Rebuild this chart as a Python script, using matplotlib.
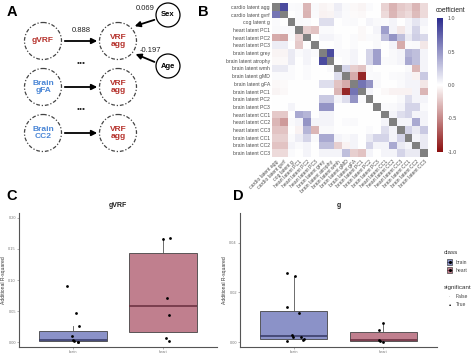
import numpy as np
import matplotlib
matplotlib.use('Agg')
import matplotlib.pyplot as plt
from matplotlib.patches import Circle
from matplotlib.colors import LinearSegmentedColormap

plt.rcParams['font.family'] = ['Liberation Sans', 'DejaVu Sans']

# ---------- data ----------
# panel A: path model
coef_vrf = 0.888
coef_sex = 0.069
coef_age = -0.197

# panel B: coefficient matrix (diagonal = nan)
latent_labels = ['cardio latent agg', 'cardio latent gvrf', 'cog latent g',
                 'heart latent PC1', 'heart latent PC2', 'heart latent PC3',
                 'brain latent grey', 'brain latent atrophy', 'brain latent wmh',
                 'brain latent gMD', 'brain latent gFA', 'brain latent PC1',
                 'brain latent PC2', 'brain latent PC3', 'heart latent CC1',
                 'heart latent CC2', 'heart latent CC3', 'brain latent CC1',
                 'brain latent CC2', 'brain latent CC3']
nan = np.nan
coef = [
    [nan, .85, .02, .03, -.30, .03, -.04, -.03, .08, .03, -.03, -.04, .02, .00, -.18, -.32, -.22, -.18, -.30, -.15],
    [.65, nan, .00, .02, -.32, .02, -.05, -.04, .06, .02, -.02, -.03, .00, .00, -.15, -.30, -.20, -.15, -.28, -.15],
    [.02, .00, nan, .03, .02, .00, .15, .15, .00, .02, .03, .00, .05, .03, .02, .05, .00, .05, .12, .05],
    [.03, .02, .03, nan, -.20, -.25, .02, .02, .00, .00, .00, -.03, .00, .05, .45, .05, -.10, .05, .20, .02],
    [-.35, -.38, .02, -.18, nan, .00, .05, .05, .02, .00, .02, -.03, .02, .03, .30, .50, .30, .10, .22, .18],
    [.08, .08, .00, -.22, .00, nan, .00, .00, .02, .00, .02, .00, .00, .03, .00, .05, -.35, .02, .03, -.10],
    [-.04, -.04, .10, .02, .05, .02, nan, .85, .02, .02, .05, .00, .20, .45, .00, .03, .05, .35, .30, .05],
    [-.03, -.03, .10, .00, .05, .00, .85, nan, .00, .02, .05, .00, .20, .45, .02, .03, .05, .40, .30, .05],
    [.10, .10, .02, .00, .02, .00, .00, .03, nan, .20, -.20, -.25, .03, .00, .00, .00, .00, .03, -.30, .05],
    [.02, .02, .02, .00, .02, .00, .00, .00, .15, nan, -.35, -.90, .02, .03, .00, .02, .03, .05, -.05, .25],
    [-.03, -.02, .00, .00, .00, .00, .15, .15, -.25, -.35, nan, .65, .50, .03, .00, .00, .02, .05, .05, -.10],
    [-.04, -.03, .00, .00, .00, .00, .00, .00, -.30, -.90, .65, nan, .05, .00, -.03, -.05, -.05, -.05, .05, -.30],
    [.00, .00, .00, .00, .00, .00, .25, .25, .05, .15, .50, .02, nan, .00, .00, .00, .03, .15, .05, .05],
    [.00, .00, .05, .00, .00, .00, .50, .50, .00, .00, .00, .00, .00, nan, .02, .03, .05, .20, .20, .02],
    [-.22, -.22, .00, .40, .35, .00, .05, .05, .00, .00, .00, .00, .00, .00, nan, .05, .15, .20, .05, .05],
    [-.30, -.42, .02, .05, .50, .05, .05, .05, .00, .02, .03, .00, .00, .00, .05, nan, .05, .05, .40, .05],
    [-.25, -.25, .00, -.05, .35, -.30, .03, .03, .00, .00, .00, .00, .02, .00, .15, .05, nan, .20, .10, .25],
    [-.20, -.20, .02, .08, .20, .03, .40, .40, .05, .03, .05, .00, .10, .20, .20, .05, .20, nan, .05, .10],
    [-.25, -.25, .05, .02, .05, .00, .30, .30, -.20, -.05, .05, .00, .20, .05, .05, .40, .10, .05, nan, .10],
    [-.15, -.15, .02, .00, .05, .00, .05, .05, .05, .30, -.20, -.25, .05, .00, .05, .05, .20, .10, .10, nan],
]

# panels C, D: additional R-squared
classes = ['brain', 'heart']
# box stats: q1, median, q3, upper whisker
c_q1 = [0.001, 0.016]
c_med = [0.0027, 0.058]
c_q3 = [0.0178, 0.143]
c_whi = [0.026, 0.167]
c_brain_pts = [0.0905, 0.047, 0.0265, 0.0097, 0.003, 0.001, 0.0005, 0.0002]
c_brain_jit = [-0.07, 0.03, 0.07, -0.01, 0.00, 0.01, 0.06, 0.05]
c_heart_pts = [0.166, 0.168, 0.0717, 0.0443, 0.0065, 0.0024]
c_heart_jit = [0.00, 0.08, 0.05, 0.07, 0.03, 0.07]

d_q1 = [0.0012, 0.0003]
d_med = [0.0024, 0.0008]
d_q3 = [0.0127, 0.0039]
d_whi = [0.0268, 0.0078]
d_brain_pts = [0.0278, 0.0268, 0.014, 0.0116, 0.0028, 0.0021, 0.0021, 0.0005, 0.0008, 0.0013]
d_brain_jit = [-0.07, 0.01, -0.07, 0.06, -0.02, -0.01, 0.08, -0.07, 0.10, 0.11]
d_heart_pts = [0.0078, 0.0048, 0.0008, 0.0005, 0.0001]
d_heart_jit = [0.00, -0.05, -0.05, -0.04, 0.00]

box_cols = ['#8b92c8', '#c07f8e']
med_cols = ['#3b3f6b', '#6e3343']

# ---------- layout helpers ----------
W, H = 474, 357
fig = plt.figure(figsize=(W / 100, H / 100), dpi=100)


def rect(x0, y0, x1, y1):
    return [x0 / W, 1 - y1 / H, (x1 - x0) / W, (y1 - y0) / H]


def letter(x, y, s):
    fig.text(x / W, 1 - y / H, s, fontsize=10.5, fontweight='bold', va='center', ha='center')


# ---------- panel A ----------
axA = fig.add_axes(rect(0, 0, 230, 175))
axA.set_xlim(0, 230)
axA.set_ylim(175, 0)
axA.axis('off')

red = '#b5302a'
blue = '#4a86d6'
dash = (0, (3, 1.5, 1, 1.5))
left_nodes = [('gVRF', red, 41), ('Brain\ngFA', blue, 87), ('Brain\nCC2', blue, 133)]
for txt, col, yy in left_nodes:
    axA.add_patch(Circle((43, yy), 18.5, fill=False, ec='#444444', lw=0.9, ls=dash))
    axA.add_patch(Circle((118, yy), 18.5, fill=False, ec='#444444', lw=0.9, ls=dash))
    axA.text(43, yy, txt, color=col, fontsize=6, fontweight='bold', ha='center', va='center',
             linespacing=1.1)
    axA.text(118, yy, 'VRF\nagg', color=red, fontsize=6, fontweight='bold', ha='center', va='center',
             linespacing=1.1)
    axA.annotate('', xy=(100, yy), xytext=(62, yy),
                 arrowprops=dict(arrowstyle='-|>', color='black', lw=1.3, mutation_scale=8))
for yy in [64, 110]:
    axA.text(81, yy, '•••', fontsize=6, ha='center', va='center', color='#222222')

for txt, yy in [('Sex', 15), ('Age', 66)]:
    axA.add_patch(Circle((168, yy), 12, fill=False, ec='black', lw=0.9))
    axA.text(168, yy, txt, fontsize=5.5, fontweight='bold', ha='center', va='center')
axA.annotate('', xy=(132, 27), xytext=(157, 19),
             arrowprops=dict(arrowstyle='-|>', color='black', lw=1.3, mutation_scale=8))
axA.annotate('', xy=(133, 53), xytext=(157, 63),
             arrowprops=dict(arrowstyle='-|>', color='black', lw=1.3, mutation_scale=8))
axA.text(81, 30, f'{coef_vrf:.3f}', fontsize=5.5, ha='center', va='center', color='#222222')
axA.text(145, 8, f'{coef_sex:.3f}', fontsize=5.5, ha='center', va='center', color='#222222')
axA.text(150, 51, f'{coef_age:.3f}', fontsize=5.5, ha='center', va='center', color='#222222')

letter(12, 12, 'A')
letter(203, 12, 'B')
letter(12, 196, 'C')
letter(238, 196, 'D')

# ---------- panel B ----------
axB = fig.add_axes(rect(272, 3, 428, 157))
cmap = LinearSegmentedColormap.from_list('rb', ['#8b1010', '#ffffff', '#2c2c8e'])
cmap.set_bad('#808080')
M = np.ma.masked_invalid(np.array(coef))
im = axB.imshow(M, cmap=cmap, vmin=-1, vmax=1, aspect='auto', interpolation='nearest')
n = len(latent_labels)
axB.set_xticks(range(n))
axB.set_yticks(range(n))
axB.set_yticklabels(latent_labels, fontsize=3.7, color='#4d4d4d')
axB.set_xticklabels(latent_labels, fontsize=3.7, color='#4d4d4d', rotation=45,
                    ha='right', rotation_mode='anchor')
axB.tick_params(length=0, pad=1.5)
for s in axB.spines.values():
    s.set_visible(False)

cax = fig.add_axes(rect(437, 18, 443, 152))
cb = fig.colorbar(im, cax=cax, ticks=[-1, -0.5, 0, 0.5, 1])
cb.ax.set_yticklabels(['-1.0', '-0.5', '0.0', '0.5', '1.0'], fontsize=3.8, color='#4d4d4d')
cb.ax.tick_params(length=1.5, width=0.4, color='white', pad=2)
cb.outline.set_visible(False)
fig.text(436 / W, 1 - 11 / H, 'coefficient', fontsize=4.8, ha='left', va='center', color='#222222')


# ---------- panels C, D ----------
def box_panel(r, q1, med, q3, whi, groups, title, ylim, yticks):
    ax = fig.add_axes(r)
    stats = []
    for i in range(2):
        stats.append(dict(med=med[i], q1=q1[i], q3=q3[i], whislo=q1[i], whishi=whi[i], fliers=[]))
    bp = ax.bxp(stats, positions=[1, 2], widths=0.75, patch_artist=True, showcaps=False,
                showfliers=False,
                whiskerprops=dict(color='#555555', lw=0.6),
                boxprops=dict(lw=0.6, edgecolor='#444444'))
    for i, b in enumerate(bp['boxes']):
        b.set_facecolor(box_cols[i])
    for i, m in enumerate(bp['medians']):
        m.set_color(med_cols[i])
        m.set_linewidth(1.2)
    for i, (pts, jit) in enumerate(groups):
        ax.scatter(np.array(jit) + i + 1, pts, s=4, color='black', zorder=5, linewidths=0)
    ax.set_xlim(0.4, 2.6)
    ax.set_ylim(*ylim)
    ax.set_yticks(yticks)
    ax.set_yticklabels([f'{t:.2f}' for t in yticks], fontsize=2.8, color='#777777')
    ax.set_xticks([1, 2])
    ax.set_xticklabels(classes, fontsize=2.8, color='#777777')
    ax.tick_params(length=1.2, width=0.4, color='#777777', pad=1)
    for s in ['top', 'right']:
        ax.spines[s].set_visible(False)
    for s in ['left', 'bottom']:
        ax.spines[s].set_color('#555555')
        ax.spines[s].set_linewidth(0.8)
    ax.set_ylabel('Additional R-squared', fontsize=3.6, color='#333333', labelpad=2)
    ax.set_title(title, fontsize=5, fontweight='bold', pad=4, color='#222222')
    return ax


box_panel(rect(19, 213, 217, 347), c_q1, c_med, c_q3, c_whi,
          [(c_brain_pts, c_brain_jit), (c_heart_pts, c_heart_jit)],
          'gVRF', (-0.008, 0.208), [0.0, 0.05, 0.10, 0.15, 0.20])
box_panel(rect(240, 213, 437, 347), d_q1, d_med, d_q3, d_whi,
          [(d_brain_pts, d_brain_jit), (d_heart_pts, d_heart_jit)],
          'g', (-0.002, 0.052), [0.0, 0.02, 0.04])

# legend
def ftxt(x, y, s, **kw):
    fig.text(x / W, 1 - y / H, s, va='center', ha='left', **kw)

ftxt(444, 253, 'class', fontsize=4.5, color='#333333')
for i, (lab, yy) in enumerate([('brain', 262), ('heart', 270)]):
    ax_k = fig.add_axes(rect(446, yy - 3.5, 453, yy + 3.5))
    ax_k.add_patch(plt.Rectangle((0.1, 0.1), 0.8, 0.8, fc=box_cols[i], ec='#444444', lw=0.5))
    ax_k.plot([0.1, 0.9], [0.5, 0.5], color=med_cols[i], lw=0.6)
    ax_k.scatter([0.5], [0.5], s=1.5, color='black', zorder=4)
    ax_k.set_xlim(0, 1)
    ax_k.set_ylim(0, 1)
    ax_k.axis('off')
    ftxt(456, yy, lab, fontsize=3.6, color='#444444')
ftxt(444, 288, 'significant', fontsize=4.5, color='#333333')
fig.text(449.5 / W, 1 - 297 / H, '•', fontsize=2.5, color='#cccccc', ha='center', va='center')
fig.text(449.5 / W, 1 - 305 / H, '•', fontsize=4.5, color='black', ha='center', va='center')
ftxt(456, 297, 'False', fontsize=3.6, color='#444444')
ftxt(456, 305, 'True', fontsize=3.6, color='#444444')

fig.savefig('out.png', dpi=100)
